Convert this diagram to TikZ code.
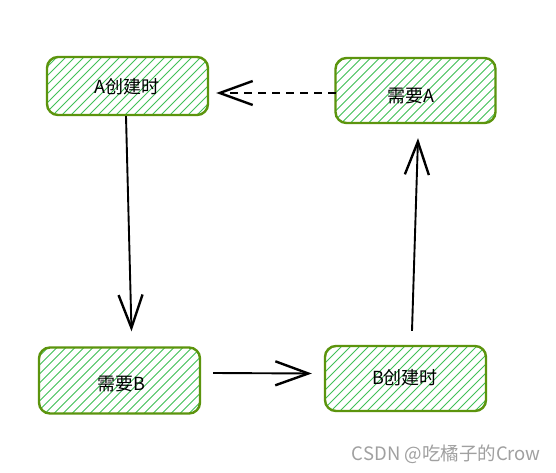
\documentclass[tikz,border=0pt]{standalone}
\usepackage{fontspec}
\setmainfont{Noto Sans CJK SC}
\usetikzlibrary{arrows.meta,calc}
\definecolor{boxborder}{HTML}{5C940D}
\definecolor{hatchgreen}{HTML}{40C057}
\definecolor{wmgray}{HTML}{A0A0A0}
\tikzset{
  hbox/.style={draw=boxborder, line width=2.4pt, rounded corners=11pt, inner sep=0pt,
    path picture={
      \foreach \i in {-120,-111,...,200}
        \draw[hatchgreen, line width=0.8pt]
          ($(path picture bounding box.south west)+(\i pt,0pt)$) -- ++(90pt,90pt);
    }},
  lbl/.style={font=\fontsize{18}{21}\selectfont, inner sep=0pt},
  conn/.style={line width=1.9pt, -{Straight Barb[length=33pt,width=24pt,line width=2.4pt]}},
  dconn/.style={conn, line width=2.8pt, dash pattern=on 8pt off 6pt},
}
\begin{document}
\begin{tikzpicture}[x=1pt,y=-1pt]
\useasboundingbox (0,0) rectangle (556,473);
\fill[white] (0,0) rectangle (556,473);
% boxes
\node[hbox, minimum width=161pt, minimum height=58pt] (a) at (127.5,86) {};
\node[hbox, minimum width=160pt, minimum height=65pt] (na) at (415.5,90.5) {};
\node[hbox, minimum width=161pt, minimum height=66pt] (nb) at (119.5,380.5) {};
\node[hbox, minimum width=161pt, minimum height=65pt] (b) at (405.5,378.5) {};
% labels
\node[lbl] (ta) at (127,87) {A创建时};
\node[lbl] (tna) at (410.5,96) {需要A};
\node[lbl] (tnb) at (121,384) {需要B};
\node[lbl] (tb) at (405,378) {B创建时};
% connectors
\draw[conn] ([xshift=-1.5pt]a.south) -- ([xshift=12pt,yshift=15pt]nb.north);
\draw[conn] ([xshift=12pt,yshift=7.5pt]nb.east) -- ([xshift=-12pt,yshift=5pt]b.west);
\draw[conn] ([xshift=6.5pt,yshift=14pt]b.north) -- ([xshift=2.5pt,yshift=-14pt]na.south);
\draw[dconn] ([xshift=1.5pt,yshift=-2.5pt]na.west) -- ([xshift=7pt,yshift=-7pt]a.east);
% watermark
\node[font=\fontsize{18.5}{21}\selectfont, text=wmgray, anchor=east, inner sep=0pt] (wm) at (541,454) {CSDN @吃橘子的Crow};
\end{tikzpicture}
\end{document}
